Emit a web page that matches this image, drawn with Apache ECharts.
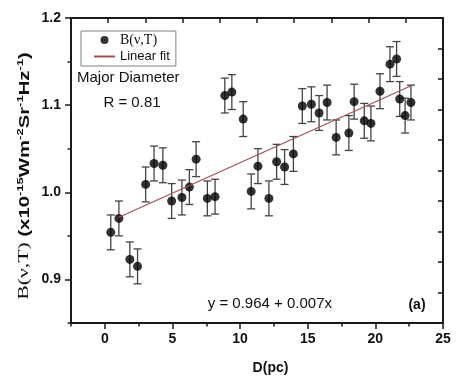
<!DOCTYPE html>
<html>
<head>
<meta charset="utf-8">
<script src="https://cdn.jsdelivr.net/npm/echarts@6/dist/echarts.min.js"></script>
<style>
html,body{margin:0;padding:0;background:#fff;}
#chart{width:474px;height:386px;}
</style>
</head>
<body>
<div id="chart"></div>
<script>
// ---- data ----
var distance = [0.44, 1.04, 1.85, 2.42, 3.02, 3.64, 4.29, 4.94, 5.70, 6.25, 6.75, 7.58, 8.15, 8.87, 9.39, 10.23, 10.82, 11.32, 12.13, 12.70, 13.29, 13.94, 14.60, 15.27, 15.84, 16.43, 17.10, 18.04, 18.43, 19.18, 19.67, 20.34, 21.08, 21.57, 21.80, 22.20, 22.63];
var brightness = [0.954, 0.970, 0.923, 0.915, 1.009, 1.033, 1.031, 0.990, 0.994, 1.006, 1.038, 0.993, 0.995, 1.111, 1.115, 1.084, 1.001, 1.030, 0.993, 1.035, 1.029, 1.044, 1.099, 1.101, 1.091, 1.103, 1.063, 1.068, 1.104, 1.082, 1.079, 1.116, 1.147, 1.153, 1.107, 1.088, 1.103];
var errors = [0.020, 0.020, 0.020, 0.020, 0.020, 0.020, 0.020, 0.020, 0.020, 0.020, 0.020, 0.020, 0.020, 0.020, 0.020, 0.020, 0.020, 0.020, 0.020, 0.020, 0.020, 0.020, 0.020, 0.020, 0.020, 0.020, 0.020, 0.020, 0.020, 0.020, 0.020, 0.020, 0.020, 0.020, 0.020, 0.020, 0.020];
var fitX = [1.0, 22.6];
var fitY = [0.971, 1.122];
var xMajorTicks = [0, 5, 10, 15, 20, 25];
var xMinorTicks = [-2.5, 2.5, 7.5, 12.5, 17.5, 22.5];
var yMajorTicks = [0.9, 1.0, 1.1, 1.2];
var yMinorTicks = [0.85, 0.95, 1.05, 1.15];
var seriesNames = ['B(\u03BD,T)', 'Linear fit'];

var points = distance.map(function (d, i) { return [d, brightness[i]]; });
var errData = distance.map(function (d, i) { return [d, brightness[i], errors[i]]; });
var fitData = fitX.map(function (d, i) { return [d, fitY[i]]; });

var chart = echarts.init(document.getElementById('chart'), null, {renderer: 'canvas'});
var axisColor = '#1a1a1a';
var sans = 'Liberation Sans, Arial, sans-serif';
var serif = 'Liberation Serif, Times New Roman, serif';

var option = {
  backgroundColor: '#ffffff',
  animation: false,
  grid: {left: 71, top: 18, right: 31, bottom: 63, containLabel: false},
  legend: {
    left: 81, top: 31, orient: 'vertical',
    borderColor: '#808080', borderWidth: 1,
    padding: [2, 6, 3, 12],
    itemWidth: 21, itemHeight: 8, itemGap: 3,
    data: [
      {name: seriesNames[0], icon: 'circle'},
      {name: seriesNames[1], itemStyle: {opacity: 0}}
    ],
    formatter: function (n) { return n === seriesNames[0] ? '{s|' + n + '}' : '{a|' + n + '}'; },
    textStyle: {
      color: '#111', fontSize: 13,
      rich: {
        s: {fontFamily: serif, fontSize: 14, color: '#111'},
        a: {fontFamily: sans, fontSize: 13, color: '#111'}
      }
    }
  },
  xAxis: [
    {
      type: 'value', min: -2.5, max: 25, position: 'bottom',
      axisLine: {show: true, onZero: false, lineStyle: {color: axisColor, width: 2}},
      axisTick: {show: true, inside: false, length: 6, lineStyle: {color: axisColor, width: 1.5}, customValues: xMajorTicks},
      axisLabel: {customValues: xMajorTicks, margin: 9, color: '#111', fontSize: 14, fontWeight: 'bold', fontFamily: sans},
      splitLine: {show: false},
      name: 'D(pc)', nameLocation: 'middle', nameGap: 38,
      nameTextStyle: {color: '#111', fontSize: 14, fontWeight: 'bold', fontFamily: sans, padding: [0, 0, 0, 27]}
    },
    {
      type: 'value', min: -2.5, max: 25, position: 'bottom',
      axisLine: {show: false, onZero: false},
      axisTick: {show: true, inside: false, length: 3.5, lineStyle: {color: axisColor, width: 1.5}, customValues: xMinorTicks},
      axisLabel: {show: false},
      splitLine: {show: false}
    },
    {
      type: 'value', min: 0, max: 10, interval: 1, position: 'top',
      axisLine: {show: true, onZero: false, lineStyle: {color: axisColor, width: 2}},
      axisTick: {show: true, inside: true, length: 5, lineStyle: {color: axisColor, width: 1.5}},
      axisLabel: {show: false},
      splitLine: {show: false}
    }
  ],
  yAxis: [
    {
      type: 'value', min: 0.85, max: 1.2, position: 'left',
      axisLine: {show: true, onZero: false, lineStyle: {color: axisColor, width: 2}},
      axisTick: {show: true, inside: false, length: 6, lineStyle: {color: axisColor, width: 1.5}, customValues: yMajorTicks},
      axisLabel: {customValues: yMajorTicks, margin: 10, color: '#111', fontSize: 14, fontWeight: 'bold', fontFamily: sans,
        formatter: function (v) { return v.toFixed(1); }},
      splitLine: {show: false}
    },
    {
      type: 'value', min: 0.85, max: 1.2, position: 'left',
      axisLine: {show: false, onZero: false},
      axisTick: {show: true, inside: false, length: 3.5, lineStyle: {color: axisColor, width: 1.5}, customValues: yMinorTicks},
      axisLabel: {show: false},
      splitLine: {show: false}
    },
    {
      type: 'value', min: 0, max: 10, interval: 1, position: 'right',
      axisLine: {show: true, onZero: false, lineStyle: {color: axisColor, width: 2}},
      axisTick: {show: true, inside: true, length: 5, lineStyle: {color: axisColor, width: 1.5}},
      axisLabel: {show: false},
      splitLine: {show: false}
    }
  ],
  series: [
    {
      type: 'custom', xAxisIndex: 0, yAxisIndex: 0, z: 2,
      data: errData,
      renderItem: function (params, api) {
        var x = api.value(0), y = api.value(1), e = api.value(2);
        var top = api.coord([x, y + e]);
        var bot = api.coord([x, y - e]);
        var w = 4;
        var st = {stroke: '#444', lineWidth: 1.3};
        return {
          type: 'group',
          children: [
            {type: 'line', shape: {x1: top[0], y1: top[1], x2: bot[0], y2: bot[1]}, style: st},
            {type: 'line', shape: {x1: top[0] - w, y1: top[1], x2: top[0] + w, y2: top[1]}, style: st},
            {type: 'line', shape: {x1: bot[0] - w, y1: bot[1], x2: bot[0] + w, y2: bot[1]}, style: st}
          ]
        };
      }
    },
    {
      name: seriesNames[0], type: 'scatter', xAxisIndex: 0, yAxisIndex: 0, z: 3,
      symbol: 'circle', symbolSize: 9,
      itemStyle: {color: '#000'},
      data: points
    },
    {
      name: seriesNames[1], type: 'line', xAxisIndex: 0, yAxisIndex: 0, z: 4,
      symbol: 'none', lineStyle: {color: '#a0524f', width: 1.2},
      itemStyle: {color: '#a0524f'},
      data: fitData
    }
  ],
  graphic: [
    {
      type: 'text', x: 24, y: 176, rotation: Math.PI / 2, scaleX: 1.45, scaleY: 1,
      style: {
        text: '{s|B(\u03BD,T)}{b| (x10}{u|-15}{b|Wm}{u|-2}{b|Sr}{u|-1}{b|Hz}{u|-1}{b|)}',
        align: 'center', verticalAlign: 'middle', fill: '#111',
        rich: {
          s: {fontFamily: serif, fontSize: 15, fill: '#111', lineHeight: 16, verticalAlign: 'bottom'},
          b: {fontFamily: sans, fontSize: 14, fontWeight: 'bold', fill: '#111', lineHeight: 16, verticalAlign: 'bottom'},
          u: {fontFamily: sans, fontSize: 9, fontWeight: 'bold', fill: '#111', lineHeight: 9, verticalAlign: 'top'}
        }
      }
    },
    {type: 'text', left: 77, top: 70, style: {text: 'Major Diameter', font: '15px Liberation Sans, Arial, sans-serif', fill: '#111'}},
    {type: 'text', x: 132, y: 103, style: {text: 'R = 0.81', font: '15px Liberation Sans, Arial, sans-serif', fill: '#111', align: 'center', verticalAlign: 'middle'}},
    {type: 'text', x: 332, y: 304, style: {text: 'y = 0.964 + 0.007x', font: '15px Liberation Sans, Arial, sans-serif', fill: '#111', align: 'right', verticalAlign: 'middle'}},
    {type: 'text', x: 417, y: 305, style: {text: '(a)', font: 'bold 14px Liberation Sans, Arial, sans-serif', fill: '#111', align: 'center', verticalAlign: 'middle'}}
  ]
};
chart.setOption(option);
</script>
</body>
</html>
